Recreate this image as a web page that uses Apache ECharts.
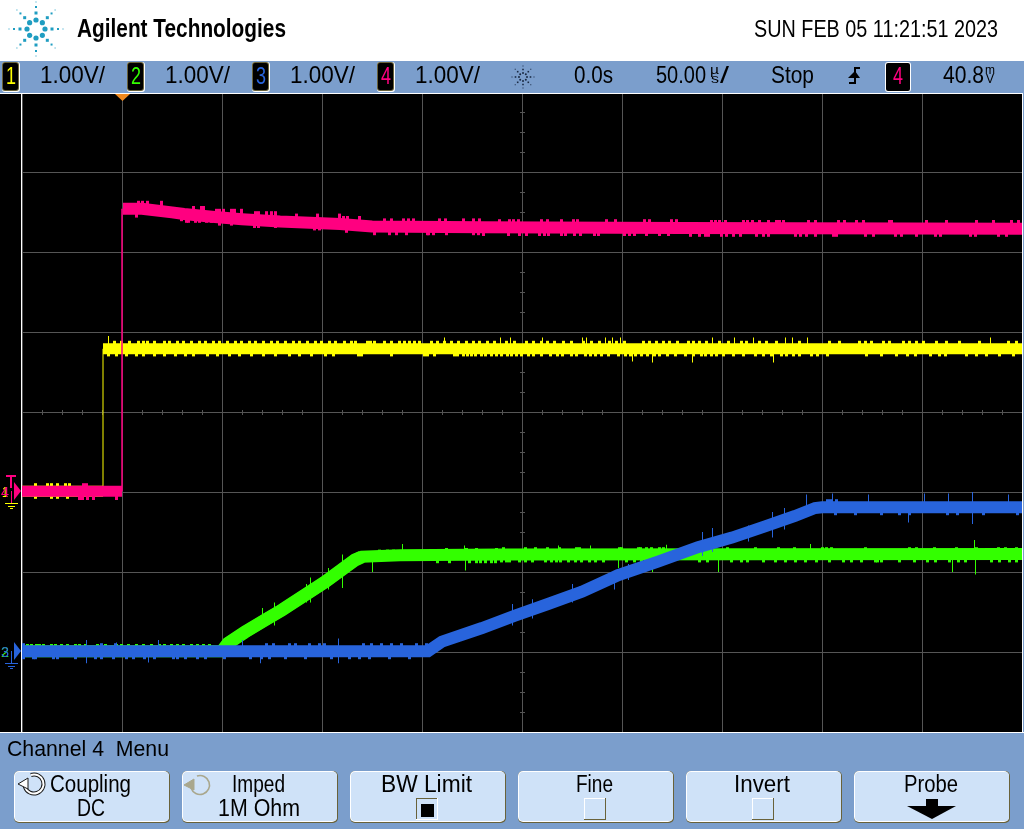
<!DOCTYPE html>
<html>
<head>
<meta charset="UTF-8">
<title>Agilent Technologies</title>
<script src="https://cdn.jsdelivr.net/npm/echarts@6/dist/echarts.min.js"></script>
<style>
html,body{margin:0;padding:0;background:#fff;}
#main{width:1024px;height:829px;}
</style>
</head>
<body>
<div id="main"></div>
<script type="text/javascript">
// time in us from the trigger, channel values in volts above that channel's ground
var ch1Times = [-50, -9.5, -9.5, 450];
var ch1Volts = [0.01, 0.01, 1.79, 1.79];
var ch2Times = [-50, 50, 53, 61.5, 71.5, 80, 101.5, 116.5, 120, 139, 189, 450];
var ch2Volts = [0.01, 0.01, 0.11, 0.25, 0.4, 0.525, 0.875, 1.15, 1.19, 1.21, 1.22, 1.225];
var ch3Times = [-50, 153, 160, 180, 196.5, 213, 230, 245, 248, 268, 288, 305, 321.5, 336.5, 346.5, 350, 450];
var ch3Volts = [0.01, 0.01, 0.13, 0.3, 0.454, 0.6, 0.754, 0.925, 0.96, 1.13, 1.31, 1.43, 1.57, 1.7, 1.8, 1.81, 1.81];
var ch4Times = [-50, 0, 0.5, 10, 25, 31, 45, 60, 79, 109, 125, 180, 280, 450];
var ch4Volts = [0.01, 0.01, 3.54, 3.54, 3.495, 3.475, 3.44, 3.41, 3.38, 3.35, 3.32, 3.31, 3.3, 3.29];

// noise stubs, times only
var ch1FuzzTop = [-44, -38, -36, -33, -29, -27, -4.3, -1, 3.2, 7.3, 9.8, 12, 15.7, 20.7, 23.2, 27, 30, 34, 38, 41, 45, 48, 52, 56, 59, 63, 66, 70, 74, 77, 81, 85, 88, 92, 96, 99, 103, 106, 110.7, 114, 116, 122, 123.7, 125.7, 130.7, 134, 138, 140.7, 143, 145.7, 148, 154, 157, 160.7, 164, 167.7, 171.5, 175, 178, 182, 185.7, 191.5, 195.7, 201.5, 205, 209, 212, 215.7, 220, 224, 230, 234, 238, 243, 246.5, 250.7, 260, 263, 266.5, 270, 273, 277, 282.5, 285, 288, 291.7, 298, 302.5, 309, 311.7, 318, 321.7, 326.7, 338, 353, 358, 368, 371, 374, 380, 383, 390, 393, 396.7, 400, 406.7, 411.7, 418, 428, 442.5, 446.7];
var ch1FuzzBot = [-44, -36, -33, -28, -7.7, -3.5, 1.5, 6.5, 9.8, 15.7, 20.7, 26, 31, 35, 42, 47, 53, 58, 64, 70, 76, 83, 88, 94, 101, 105, 117.7, 119, 134, 150.7, 152, 155.3, 165.7, 166.8, 170, 172, 174, 176, 179, 181, 184, 186.5, 189, 192, 194, 196.5, 199, 202.3, 205, 209, 213.7, 217, 219.7, 224, 226.3, 231, 233.5, 236, 239, 242.5, 247.5, 251, 253.3, 256, 259, 262, 265.5, 268, 272, 276, 280.8, 285, 289, 291, 294, 296.7, 300, 305, 310, 316, 320, 324, 329, 331.7, 335, 338, 344, 347, 352, 371.7, 379, 386.7, 392, 396, 403.3, 408, 411, 421.7, 426.7, 431.7, 438, 445];
var ch2FuzzTop = [-48, -46, -43.5, -42, -40, -36, -34, -31, -28, -24, -22, -19, -13, -11, -9, -3.5, -1, 2.3, 6.5, 10, 14, 18, 20.7, 24, 27, 30, 34, 37, 40, 43, 128, 132, 135, 161.5, 171.5, 176.5, 186.5, 190, 201, 206, 212, 218, 226.5, 228, 248, 249, 257.5, 258.5, 261.5, 264, 268, 270, 302, 316, 327.5, 335.5, 349.5, 351.5, 354, 371, 393, 396.7, 405.5, 416.5, 426.5, 437.5, 441, 446.5];
var ch2FuzzBot = [157, 163, 173, 176.5, 178.5, 181, 184, 186, 189, 191.5, 193, 198, 201, 204.5, 211, 214, 216.5, 218.5, 222.5, 226, 229, 233, 236, 240, 251.5, 255.5, 259, 263, 266, 288, 292, 304, 309, 312, 320, 326, 331, 336, 341, 346.5, 353, 360, 364, 369, 376, 379, 377, 388, 395.5, 402, 406, 413, 417.5, 421, 434, 438, 443, 446.5];
var ch3FuzzTop = [-50, -4, -11, 71.5, 75, 83, 86, 93, 98, 100.5, 120, 124, 129, 134, 139, 146.5, 151.5, 352, 353.5, 356.5];
var ch3FuzzBot = [-50, -45, -44, -35, -33, -24, -14, -11, -5, 1.5, 5, 10.5, 15.7, 25, 27, 31, 37, 41, 50.5, 63.5, 69, 73, 81, 91, 104, 113, 118, 123, 133, 143, 356, 366, 379, 388, 393, 412, 417, 430, 447];
var ch4FuzzTop = [-20, -18.5, 7.7, 9.3, 12, 19, 35, 39, 40, 46.5, 48, 50, 54, 55.5, 59, 66, 67.5, 71.5, 74, 76, 86.5, 97, 108, 110, 112, 118, 130.7, 134, 140, 142.3, 145, 158, 161, 170, 175, 178, 188, 193, 195, 197.3, 209, 212, 219, 225, 227, 241.5, 246, 260.7, 263, 274, 276.7, 294, 296, 298, 301, 310, 312, 314.7, 318, 322.5, 326.3, 328, 330, 342.5, 345.8, 357.5, 360.5, 366.7, 370, 383, 384, 401.7, 411.7, 426.7, 435, 444, 447.5];
var ch4FuzzBot = [-22, -20.5, -18, -15, -3.5, 6.5, 29, 31.5, 32.7, 36, 38, 41.5, 44, 48, 54, 65.5, 67.5, 76, 95.7, 98, 111.5, 125.7, 133, 136.5, 141.5, 152, 152.5, 155, 161.5, 175, 177.5, 180, 192.3, 198, 201.5, 208, 210.7, 212.3, 219, 221, 225.7, 228.3, 235.7, 237.3, 250.7, 253, 255.7, 261.7, 268, 272.5, 283.7, 288, 290.8, 292.5, 299, 301.7, 305, 308.3, 316.3, 320, 322.5, 335.8, 338.3, 341.7, 345.8, 355, 356.7, 370.8, 375, 385.8, 389, 396.7, 405.8, 408.3, 423.3, 425.8, 437.5, 441.7];

// the longer spikes, [time, volts above ground]
var ch1Spikes = [[-6.8, 1.95], [161, 1.93], [189, 1.93], [194, 1.93], [210, 1.93], [230, 1.93], [232, 1.93], [241.5, 1.93], [245, 1.93], [249, 1.93], [295, 1.93], [305.8, 1.93], [315.3, 1.93], [331.7, 1.93], [335, 1.93], [342.5, 1.93], [434, 1.93], [255, 1.63], [265, 1.62], [285, 1.62], [325.7, 1.62]];
var ch2Spikes = [[140, 1.35], [171, 1.33], [218, 1.33], [234, 1.33], [265, 1.0], [272, 1.34], [298, 1.0], [293, 1.35], [344, 1.35], [415, 1.0], [426, 1.4], [426.5, 0.97], [248, 1.05], [125, 1.0], [171.5, 1.02]];
var ch3Spikes = [[-18, 0.15], [-3, 0.12], [18, 0.15], [-18, -0.14], [13, -0.13], [60, 0.15], [69, -0.14], [108, 0.17], [108, -0.14], [355, 1.98], [342, 1.97], [401, 1.98], [393, 1.62], [373, 1.97], [413, 1.98], [425, 2.0], [425, 1.6], [443, 1.97]];

// spikes on the slopes, [time, low volts, high volts]
var ch2RampSpikes = [[76, 0.33, 0.62], [92, 0.62, 0.85], [103, 0.78, 1.05], [110, 0.8, 1.22], [94, 0.62, 0.93], [70, 0.42, 0.55]];
var ch3RampSpikes = [[205, 0.42, 0.66], [253, 0.9, 1.1], [295, 1.25, 1.55], [290, 1.2, 1.5], [246, 0.78, 1.0], [325, 1.43, 1.75], [331, 1.53, 1.8], [313, 1.38, 1.58], [225, 0.62, 0.85], [195, 0.33, 0.6]];

var ch1Color = '#ffff00', ch2Color = '#33ff00', ch3Color = '#2864dc', ch4Color = '#ff0080';
var barColor = '#7b9ecc', buttonColor = '#cfe2f8', olive = '#69623a', gridColor = '#555555';

function zip(ts, vs, offset) {
    return ts.map(function (t, i) { return [t, vs[i] + offset]; });
}
function levelAt(ts, vs, t) {
    var v = vs[0];
    for (var i = 0; i < ts.length; i++) { if (ts[i] <= t) v = vs[i]; }
    return v;
}
// stub list -> [t, v0, v1] on the display axis
function stubs(list, ts, vs, delta, offset) {
    return list.map(function (t) {
        var l = levelAt(ts, vs, t);
        return [t, l + offset, l + delta + offset];
    });
}
function spikes(list, ts, vs, offset) {
    return list.map(function (s) {
        return [s[0], levelAt(ts, vs, s[0]) + offset, s[1] + offset];
    });
}
function ramp(list, offset) {
    return list.map(function (s) { return [s[0], s[1] + offset, s[2] + offset]; });
}
function stubSeries(data, color, z, w) {
    return {
        type: 'custom', data: data, z: z, silent: true, clip: true,
        encode: { x: 0, y: [1, 2] },
        renderItem: function (params, api) {
            var a = api.coord([api.value(0), api.value(1)]);
            var b = api.coord([api.value(0), api.value(2)]);
            return {
                type: 'rect',
                shape: { x: Math.round(a[0]), y: Math.min(a[1], b[1]), width: w, height: Math.abs(a[1] - b[1]) },
                style: { fill: color }
            };
        }
    };
}
function traceSeries(data, color, z, w) {
    return {
        type: 'line', data: data, z: z, silent: true, showSymbol: false, animation: false,
        lineStyle: { color: color, width: w, cap: 'butt', join: 'miter' }
    };
}

// graticule sub ticks on the centre cross
var xMinor = [], yMinor = [];
for (var i = -40; i < 450; i += 10) { xMinor.push([i, 1, 1]); }
for (var j = -2.75; j < 5; j += 0.25) { yMinor.push([200, j, j]); }
function tickSeries(data, horizontal) {
    return {
        type: 'custom', data: data, z: 1, silent: true,
        encode: { x: 0, y: 1 },
        renderItem: function (params, api) {
            var p = api.coord([api.value(0), api.value(1)]);
            var s = horizontal ? { x: Math.round(p[0]) - 2, y: Math.round(p[1]), width: 5, height: 1 }
                               : { x: Math.round(p[0]), y: Math.round(p[1]) - 2, width: 1, height: 5 };
            return { type: 'rect', shape: s, style: { fill: gridColor } };
        }
    };
}

// ---- instrument chrome ----
var chrome = [];
var mctx = document.createElement('canvas').getContext('2d');
function rect(x, y, w, h, fill, r) {
    chrome.push({ type: 'rect', silent: true, z: 50, shape: { x: x, y: y, width: w, height: h, r: r || 0 }, style: { fill: fill } });
}
function poly(points, fill) {
    chrome.push({ type: 'polygon', silent: true, z: 52, shape: { points: points }, style: { fill: fill } });
}
// text squeezed or stretched to span x0..x1 like the scope's bitmap font
function label(text, x0, x1, base, size, color, bold) {
    var font = (bold ? 'bold ' : '') + size + 'px "Liberation Sans"';
    mctx.font = font;
    var k = (x1 - x0) / mctx.measureText(text).width;
    chrome.push({
        type: 'text', silent: true, z: 53, x: x0, y: base - 0.26 * size, originX: 0, originY: 0, scaleX: k,
        style: { text: text, font: font, fill: color || '#000', verticalAlign: 'middle', align: 'left' }
    });
}
function badge(x, y, w, h, ch, color, allWhite) {
    rect(x, y, w, h, '#fff', 3);
    if (!allWhite) rect(x, y, w - 1, h - 1, olive, 3);
    rect(x + 1, y + 1, w - 2 - (allWhite ? 0 : 1), h - 2 - (allWhite ? 0 : 1), '#000', 2);
    label(ch, x + w / 2 - 5, x + w / 2 + 5, y + 22, 24, color);
}
function button(x, w) {
    rect(x, 771, w, 52, olive, 5);
    rect(x, 771, w - 1, 51, '#fff', 5);
    rect(x + 1, 772, w - 2, 49, buttonColor, 4);
}
function checkbox(x, pressed) {
    rect(x, 798, 22, 22, pressed ? '#fff' : olive);
    rect(x, 798, 21, 21, pressed ? olive : '#fff');
    rect(x + 1, 799, 20, 20, buttonColor);
    if (pressed) rect(x + 5, 804, 13, 13, '#000');
}
function burst(cx, cy, color, radii, sizes) {
    for (var a = 0; a < 8; a++) {
        var ang = a * Math.PI / 4 + Math.PI / 2;
        for (var n = 0; n < radii.length; n++) {
            var px = cx + radii[n] * Math.cos(ang), py = cy + radii[n] * Math.sin(ang);
            if (n === 0) {
                chrome.push({ type: 'circle', silent: true, z: 52, shape: { cx: px, cy: py, r: sizes[0] }, style: { fill: color } });
            } else {
                rect(px - sizes[n] / 2, py - sizes[n] / 2, sizes[n], sizes[n], color);
            }
        }
    }
}
function arcIcon(cx, cy, r, color, outline, arrow) {
    if (outline) {
        chrome.push({ type: 'arc', silent: true, z: 52, shape: { cx: cx, cy: cy, r: r, startAngle: -1.9, endAngle: 2.9, clockwise: true }, style: { stroke: outline, lineWidth: 4, fill: 'none' } });
    }
    chrome.push({ type: 'arc', silent: true, z: 52, shape: { cx: cx, cy: cy, r: r, startAngle: -1.9, endAngle: 2.9, clockwise: true }, style: { stroke: color, lineWidth: outline ? 2 : 1.6, fill: 'none' } });
    chrome.push({ type: 'polygon', silent: true, z: 53, shape: { points: [[cx - 16, cy], [cx - 6, cy - 6], [cx - 6, cy + 5]] }, style: { fill: arrow, stroke: outline || arrow, lineWidth: 1 } });
}

// header and status bar
rect(0, 0, 1024, 61, '#fff');
rect(0, 61, 1024, 32, barColor);
rect(0, 93, 1024, 1, '#fff');
rect(0, 94, 21, 638, '#000');
rect(21, 93, 1, 640, '#fff');
rect(1022, 93, 1, 640, '#fff');
rect(1023, 93, 1, 640, barColor);
rect(0, 732, 1024, 1, '#fff');
rect(0, 733, 1024, 96, barColor);
burst(36, 29, '#1f9dc1', [9, 16, 22, 27], [2.6, 3, 2, 1]);
label('Agilent Technologies', 77, 286, 37, 25, '#000', true);
label('SUN FEB 05 11:21:51 2023', 754, 998, 37, 24);

var chanNames = ['1', '2', '3', '4'], chanColors = [ch1Color, ch2Color, ch3Color, ch4Color];
var chanX = [2, 127, 252, 377];
chanNames.forEach(function (c, i) {
    badge(chanX[i], 62, 18, 30, c, chanColors[i]);
    label('1.00V/', chanX[i] + 38, chanX[i] + 103, 83, 24);
});
burst(523, 77, '#1a2a44', [4, 7.5, 11], [1, 1.6, 1]);
label('0.0s', 574, 613, 83, 24);
label('50.00', 656, 706, 83, 24);
label('\u00b5', 710, 719, 74, 12);
label('s', 711, 719, 83, 12);
label('/', 720, 729, 83, 24);
label('Stop', 771, 814, 83, 24);
chrome.push({ type: 'polyline', silent: true, z: 52, shape: { points: [[849, 83], [855, 83], [855, 68], [860, 68]] }, style: { stroke: '#000', lineWidth: 2, fill: 'none' } });
poly([[848, 78], [860, 78], [855, 71]], '#000');
badge(885, 62, 26, 30, '4', ch4Color, true);
label('40.8', 943, 984, 83, 24);
label('m', 985, 995, 74, 12);
label('V', 986, 994, 83, 12);

// channel menu
label('Channel 4  Menu', 7, 169, 756, 22);
var buttonX = [14, 182, 350, 518, 686, 854];
buttonX.forEach(function (x) { button(x, 156); });
arcIcon(34, 784, 9.5, '#fff', '#1a1a1a', '#fff');
arcIcon(200, 785, 9.5, '#a9a78d', null, '#a9a78d');
label('Coupling', 50, 131, 792, 23);
label('DC', 77, 105, 816, 23);
label('Imped', 232, 285, 792, 23);
label('1M Ohm', 218, 300, 816, 23);
label('BW Limit', 381, 472, 792, 23);
label('Fine', 576, 613, 792, 23);
label('Invert', 734, 790, 792, 23);
label('Probe', 904, 958, 792, 23);
checkbox(416, true);
checkbox(584, false);
checkbox(752, false);
rect(926, 799, 12, 8, '#000');
poly([[907, 806], [956, 806], [932, 819]], '#000');

// trigger marker and ground markers
poly([[115, 94], [130, 94], [122.5, 101]], '#f28a1e');
function groundMark(cy, color, num, numColor, bars) {
    poly([[14, cy - 9], [21, cy], [14, cy + 9]], color);
    label(num, 1, 9, cy + 6, 15, numColor);
    rect(11, cy, 1, 12, color);
    rect(5, cy + 12, 13, 1, bars);
    rect(8, cy + 15, 7, 1, bars);
    rect(10, cy + 17, 3, 1, bars);
}
label('1', 2, 8, 497, 15, ch1Color);
groundMark(491, ch4Color, '4', ch4Color, ch1Color);
rect(6, 475, 10, 2, ch4Color);
rect(10, 475, 2, 13, ch4Color);
label('2', 1, 9, 657, 15, ch2Color);
groundMark(651, ch3Color, '3', ch3Color, ch3Color);

var option = {
    animation: false,
    backgroundColor: '#fff',
    grid: { left: 22, top: 92, width: 1000, height: 640, show: true, backgroundColor: '#000', borderWidth: 0 },
    xAxis: {
        type: 'value', min: -50, max: 450, interval: 50,
        axisLine: { show: false }, axisTick: { show: false }, axisLabel: { show: false },
        splitLine: { show: true, lineStyle: { color: gridColor, width: 1 } }
    },
    yAxis: {
        type: 'value', min: -3, max: 5, interval: 1,
        axisLine: { show: false }, axisTick: { show: false }, axisLabel: { show: false },
        splitLine: { show: true, lineStyle: { color: gridColor, width: 1 } }
    },
    graphic: { elements: chrome },
    series: [
        tickSeries(xMinor, false),
        tickSeries(yMinor, true),
        // yellow
        traceSeries(zip([-9.5, -9.5], [0.01, 1.79], 0), ch1Color, 3, 1),
        stubSeries(stubs(ch1FuzzTop, ch1Times, ch1Volts, 0.1, 0), ch1Color, 3, 3),
        stubSeries(stubs(ch1FuzzBot, ch1Times, ch1Volts, -0.095, 0), ch1Color, 3, 3),
        stubSeries(spikes(ch1Spikes, ch1Times, ch1Volts, 0), ch1Color, 3, 1),
        traceSeries(zip(ch1Times.slice(0, 2), ch1Volts.slice(0, 2), 0), ch1Color, 3, 11),
        traceSeries(zip(ch1Times.slice(2), ch1Volts.slice(2), 0), ch1Color, 3, 11),
        // green
        stubSeries(stubs(ch2FuzzTop, ch2Times, ch2Volts, 0.09, -2), ch2Color, 4, 3),
        stubSeries(stubs(ch2FuzzBot, ch2Times, ch2Volts, -0.1, -2), ch2Color, 4, 3),
        stubSeries(spikes(ch2Spikes, ch2Times, ch2Volts, -2), ch2Color, 4, 1),
        stubSeries(ramp(ch2RampSpikes, -2), ch2Color, 4, 1),
        traceSeries(zip(ch2Times.slice(1, 9), ch2Volts.slice(1, 9), -2), ch2Color, 4, 13),
        traceSeries(zip(ch2Times, ch2Volts, -2), ch2Color, 4, 12),
        // blue
        stubSeries(stubs(ch3FuzzTop, ch3Times, ch3Volts, 0.1, -2), ch3Color, 5, 3),
        stubSeries(stubs(ch3FuzzBot, ch3Times, ch3Volts, -0.1, -2), ch3Color, 5, 3),
        stubSeries(spikes(ch3Spikes, ch3Times, ch3Volts, -2), ch3Color, 5, 1),
        stubSeries(ramp(ch3RampSpikes, -2), ch3Color, 5, 1),
        traceSeries(zip(ch3Times, ch3Volts, -2), ch3Color, 5, 12),
        // pink
        traceSeries(zip([0, 0], [0.01, 3.54], 0), ch4Color, 6, 1.5),
        stubSeries(stubs(ch4FuzzTop, ch4Times, ch4Volts, 0.1, 0), ch4Color, 6, 3),
        stubSeries(stubs(ch4FuzzBot, ch4Times, ch4Volts, -0.11, 0), ch4Color, 6, 3),
        traceSeries(zip(ch4Times.slice(0, 2), ch4Volts.slice(0, 2), 0), ch4Color, 6, 11),
        traceSeries(zip(ch4Times.slice(2), ch4Volts.slice(2), 0), ch4Color, 6, 12)
    ]
};
var myChart = echarts.init(document.getElementById('main'), null, { renderer: 'canvas' });
myChart.setOption(option);
</script>
</body>
</html>
